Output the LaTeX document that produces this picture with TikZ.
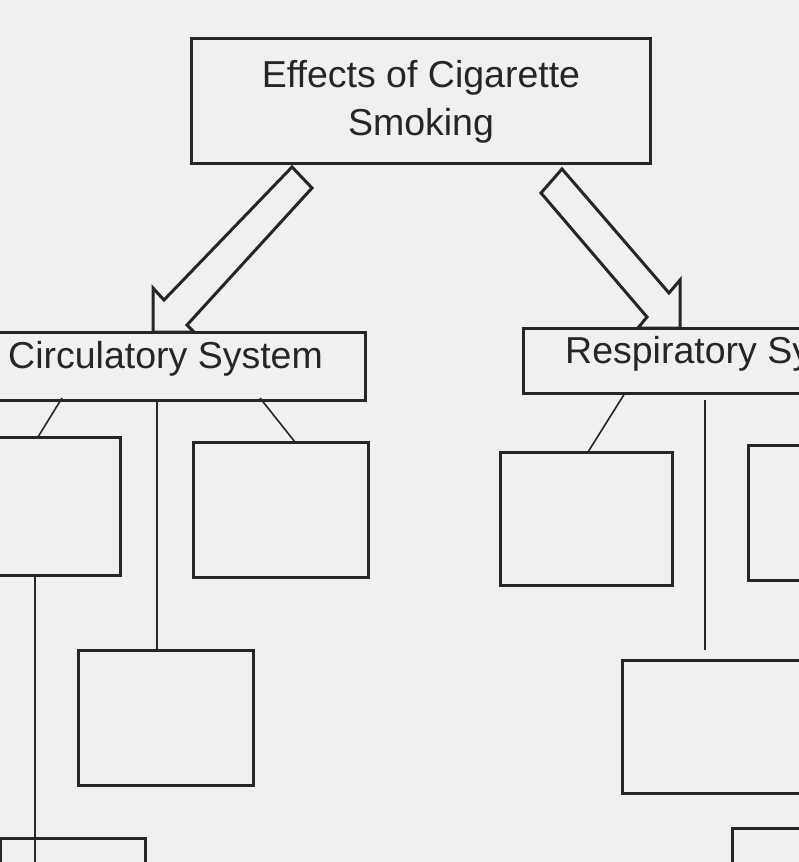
\documentclass[tikz,border=0pt]{standalone}
\usepackage{fontspec}
\setmainfont{Liberation Sans}
\begin{document}
\begin{tikzpicture}[x=1pt,y=-1pt,
  bx/.style={draw=black!85,line width=3pt},
  ln/.style={draw=black!85,line width=1.6pt},
  lbl/.style={font=\fontsize{37.5}{48}\selectfont,align=center,text=black!85}]
\fill[gray!12] (0,0) rectangle (799,862);
\clip (0,0) rectangle (799,862);
\draw[bx] (191,38) rectangle (650,163);
\node[lbl] (top) at (421,102) {Effects of Cigarette\\Smoking};
\draw[bx,line join=miter] (292,167) -- (312,188) -- (187,325) -- (194,332) -- (153,332) -- (153,288) -- (164,300) -- cycle;
\draw[bx,line join=miter] (562,169) -- (541,193) -- (647,317) -- (638,328) -- (680,328) -- (680,280) -- (669,293) -- cycle;
\draw[bx] (-5,332) rectangle (365,400);
\node[lbl,anchor=west,inner sep=0pt] (circ) at (8,359) {Circulatory System};
\draw[bx] (523,328) rectangle (810,393);
\node[lbl,anchor=west,inner sep=0pt] (resp) at (565,354) {Respiratory System};
\coordinate (c1) at (62,398); \coordinate (c1e) at (38,437);
\draw[ln] (c1) -- (c1e);
\coordinate (c2) at (157,400); \coordinate (c2e) at (157,650);
\draw[ln] (c2) -- (c2e);
\coordinate (c3) at (260,398); \coordinate (c3e) at (295,442);
\draw[ln] (c3) -- (c3e);
\draw[bx] (-5,437) rectangle (120,575);
\draw[bx] (193,442) rectangle (368,577);
\draw[bx] (78,650) rectangle (253,785);
\coordinate (c4) at (35,575); \coordinate (c4e) at (35,870);
\draw[ln] (c4) -- (c4e);
\draw[bx] (0,838) rectangle (145,875);
\coordinate (r1) at (625,393); \coordinate (r1e) at (588,452);
\draw[ln] (r1) -- (r1e);
\draw[bx] (500,452) rectangle (672,585);
\coordinate (r2) at (705,400); \coordinate (r2e) at (705,650);
\draw[ln] (r2) -- (r2e);
\draw[bx] (748,445) rectangle (810,580);
\draw[bx] (622,660) rectangle (800,793);
\draw[bx] (732,828) rectangle (810,875);
\end{tikzpicture}
\end{document}
